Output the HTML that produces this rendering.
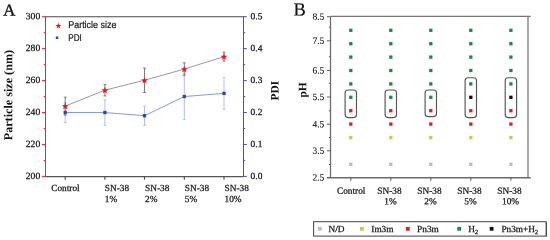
<!DOCTYPE html><html><head><meta charset="utf-8"><title>Figure</title><style>html,body{margin:0;padding:0;background:#fff;width:550px;height:240px;overflow:hidden}svg{display:block}</style></head><body>
<svg width="550" height="240" viewBox="0 0 550 240" text-rendering="geometricPrecision">
<rect width="550" height="240" fill="#fff"/>
<text x="3.2" y="15.6" font-family="'Liberation Serif', 'Times New Roman', serif" font-size="16.8" fill="#111" stroke="#111" stroke-width="0.3" transform="rotate(0.03 3.2 15.6)">A</text>
<line x1="45.5" y1="16.7" x2="243.5" y2="16.7" stroke="#4a4a4a" stroke-width="1.1"/>
<line x1="45.5" y1="176.65" x2="243.5" y2="176.65" stroke="#555" stroke-width="1.3"/>
<line x1="65.2" y1="176.4" x2="65.2" y2="179.70000000000002" stroke="#4a4a4a" stroke-width="1.1"/>
<line x1="104.9" y1="176.4" x2="104.9" y2="179.70000000000002" stroke="#4a4a4a" stroke-width="1.1"/>
<line x1="144.5" y1="176.4" x2="144.5" y2="179.70000000000002" stroke="#4a4a4a" stroke-width="1.1"/>
<line x1="184.3" y1="176.4" x2="184.3" y2="179.70000000000002" stroke="#4a4a4a" stroke-width="1.1"/>
<line x1="224.0" y1="176.4" x2="224.0" y2="179.70000000000002" stroke="#4a4a4a" stroke-width="1.1"/>
<line x1="45.5" y1="16.2" x2="45.5" y2="176.9" stroke="#f0202a" stroke-width="1.05"/>
<line x1="42.0" y1="16.70" x2="45.5" y2="16.70" stroke="#f0202a" stroke-width="1.0"/>
<text x="40.2" y="19.20" text-anchor="end" font-family="'Liberation Serif', 'Times New Roman', serif" font-size="9.6" fill="#161616" stroke="#161616" stroke-width="0.25" transform="rotate(0.03 40.2 19.20)">300</text>
<line x1="43.7" y1="32.67" x2="45.5" y2="32.67" stroke="#f0202a" stroke-width="1.0"/>
<line x1="42.0" y1="48.64" x2="45.5" y2="48.64" stroke="#f0202a" stroke-width="1.0"/>
<text x="40.2" y="51.14" text-anchor="end" font-family="'Liberation Serif', 'Times New Roman', serif" font-size="9.6" fill="#161616" stroke="#161616" stroke-width="0.25" transform="rotate(0.03 40.2 51.14)">280</text>
<line x1="43.7" y1="64.61" x2="45.5" y2="64.61" stroke="#f0202a" stroke-width="1.0"/>
<line x1="42.0" y1="80.58" x2="45.5" y2="80.58" stroke="#f0202a" stroke-width="1.0"/>
<text x="40.2" y="83.08" text-anchor="end" font-family="'Liberation Serif', 'Times New Roman', serif" font-size="9.6" fill="#161616" stroke="#161616" stroke-width="0.25" transform="rotate(0.03 40.2 83.08)">260</text>
<line x1="43.7" y1="96.55" x2="45.5" y2="96.55" stroke="#f0202a" stroke-width="1.0"/>
<line x1="42.0" y1="112.52" x2="45.5" y2="112.52" stroke="#f0202a" stroke-width="1.0"/>
<text x="40.2" y="115.02" text-anchor="end" font-family="'Liberation Serif', 'Times New Roman', serif" font-size="9.6" fill="#161616" stroke="#161616" stroke-width="0.25" transform="rotate(0.03 40.2 115.02)">240</text>
<line x1="43.7" y1="128.49" x2="45.5" y2="128.49" stroke="#f0202a" stroke-width="1.0"/>
<line x1="42.0" y1="144.46" x2="45.5" y2="144.46" stroke="#f0202a" stroke-width="1.0"/>
<text x="40.2" y="146.96" text-anchor="end" font-family="'Liberation Serif', 'Times New Roman', serif" font-size="9.6" fill="#161616" stroke="#161616" stroke-width="0.25" transform="rotate(0.03 40.2 146.96)">220</text>
<line x1="43.7" y1="160.43" x2="45.5" y2="160.43" stroke="#f0202a" stroke-width="1.0"/>
<line x1="42.0" y1="176.40" x2="45.5" y2="176.40" stroke="#f0202a" stroke-width="1.0"/>
<text x="40.2" y="178.90" text-anchor="end" font-family="'Liberation Serif', 'Times New Roman', serif" font-size="9.6" fill="#161616" stroke="#161616" stroke-width="0.25" transform="rotate(0.03 40.2 178.90)">200</text>
<line x1="243.5" y1="16.2" x2="243.5" y2="176.9" stroke="#3b53c4" stroke-width="1.05"/>
<line x1="243.5" y1="16.70" x2="246.8" y2="16.70" stroke="#3b53c4" stroke-width="1.0"/>
<text x="250.6" y="19.20" font-family="'Liberation Serif', 'Times New Roman', serif" font-size="9.4" fill="#161616" stroke="#161616" stroke-width="0.25" transform="rotate(0.03 250.6 19.20)">0.5</text>
<line x1="243.5" y1="32.67" x2="245.2" y2="32.67" stroke="#3b53c4" stroke-width="1.0"/>
<line x1="243.5" y1="48.64" x2="246.8" y2="48.64" stroke="#3b53c4" stroke-width="1.0"/>
<text x="250.6" y="51.14" font-family="'Liberation Serif', 'Times New Roman', serif" font-size="9.4" fill="#161616" stroke="#161616" stroke-width="0.25" transform="rotate(0.03 250.6 51.14)">0.4</text>
<line x1="243.5" y1="64.61" x2="245.2" y2="64.61" stroke="#3b53c4" stroke-width="1.0"/>
<line x1="243.5" y1="80.58" x2="246.8" y2="80.58" stroke="#3b53c4" stroke-width="1.0"/>
<text x="250.6" y="83.08" font-family="'Liberation Serif', 'Times New Roman', serif" font-size="9.4" fill="#161616" stroke="#161616" stroke-width="0.25" transform="rotate(0.03 250.6 83.08)">0.3</text>
<line x1="243.5" y1="96.55" x2="245.2" y2="96.55" stroke="#3b53c4" stroke-width="1.0"/>
<line x1="243.5" y1="112.52" x2="246.8" y2="112.52" stroke="#3b53c4" stroke-width="1.0"/>
<text x="250.6" y="115.02" font-family="'Liberation Serif', 'Times New Roman', serif" font-size="9.4" fill="#161616" stroke="#161616" stroke-width="0.25" transform="rotate(0.03 250.6 115.02)">0.2</text>
<line x1="243.5" y1="128.49" x2="245.2" y2="128.49" stroke="#3b53c4" stroke-width="1.0"/>
<line x1="243.5" y1="144.46" x2="246.8" y2="144.46" stroke="#3b53c4" stroke-width="1.0"/>
<text x="250.6" y="146.96" font-family="'Liberation Serif', 'Times New Roman', serif" font-size="9.4" fill="#161616" stroke="#161616" stroke-width="0.25" transform="rotate(0.03 250.6 146.96)">0.1</text>
<line x1="243.5" y1="160.43" x2="245.2" y2="160.43" stroke="#3b53c4" stroke-width="1.0"/>
<line x1="243.5" y1="176.40" x2="246.8" y2="176.40" stroke="#3b53c4" stroke-width="1.0"/>
<text x="250.6" y="178.90" font-family="'Liberation Serif', 'Times New Roman', serif" font-size="9.4" fill="#161616" stroke="#161616" stroke-width="0.25" transform="rotate(0.03 250.6 178.90)">0.0</text>
<text transform="translate(12.3,95.1) rotate(-90) rotate(0.03)" text-anchor="middle" font-family="'Liberation Serif', 'Times New Roman', serif" font-weight="bold" font-size="12.15" fill="#111">Particle size (nm)</text>
<text transform="translate(278.6,90.6) rotate(-90) rotate(0.03)" text-anchor="middle" font-family="'Liberation Serif', 'Times New Roman', serif" font-weight="bold" font-size="11.4" fill="#111">PDI</text>
<text x="65.45" y="191.1" text-anchor="middle" font-family="'Liberation Serif', 'Times New Roman', serif" font-size="9.3" fill="#161616" stroke="#161616" stroke-width="0.25" transform="rotate(0.03 65.45 191.1)">Control</text>
<text x="104.8" y="191.1" font-family="'Liberation Serif', 'Times New Roman', serif" font-size="9.3" fill="#161616" stroke="#161616" stroke-width="0.25" transform="rotate(0.03 104.8 191.1)">SN-38</text>
<text x="104.8" y="202.1" font-family="'Liberation Serif', 'Times New Roman', serif" font-size="9.3" fill="#161616" stroke="#161616" stroke-width="0.25" transform="rotate(0.03 104.8 202.1)">1%</text>
<text x="145.0" y="191.1" font-family="'Liberation Serif', 'Times New Roman', serif" font-size="9.3" fill="#161616" stroke="#161616" stroke-width="0.25" transform="rotate(0.03 145.0 191.1)">SN-38</text>
<text x="145.0" y="202.1" font-family="'Liberation Serif', 'Times New Roman', serif" font-size="9.3" fill="#161616" stroke="#161616" stroke-width="0.25" transform="rotate(0.03 145.0 202.1)">2%</text>
<text x="184.8" y="191.1" font-family="'Liberation Serif', 'Times New Roman', serif" font-size="9.3" fill="#161616" stroke="#161616" stroke-width="0.25" transform="rotate(0.03 184.8 191.1)">SN-38</text>
<text x="184.8" y="202.1" font-family="'Liberation Serif', 'Times New Roman', serif" font-size="9.3" fill="#161616" stroke="#161616" stroke-width="0.25" transform="rotate(0.03 184.8 202.1)">5%</text>
<text x="224.5" y="191.1" font-family="'Liberation Serif', 'Times New Roman', serif" font-size="9.3" fill="#161616" stroke="#161616" stroke-width="0.25" transform="rotate(0.03 224.5 191.1)">SN-38</text>
<text x="224.5" y="202.1" font-family="'Liberation Serif', 'Times New Roman', serif" font-size="9.3" fill="#161616" stroke="#161616" stroke-width="0.25" transform="rotate(0.03 224.5 202.1)">10%</text>
<line x1="65.2" y1="102.62" x2="65.2" y2="122.42" stroke="#b3bfea" stroke-width="1"/>
<line x1="63.7" y1="102.62" x2="66.7" y2="102.62" stroke="#b3bfea" stroke-width="0.9"/>
<line x1="63.7" y1="122.42" x2="66.7" y2="122.42" stroke="#b3bfea" stroke-width="0.9"/>
<line x1="104.9" y1="99.74" x2="104.9" y2="125.30" stroke="#b3bfea" stroke-width="1"/>
<line x1="103.4" y1="99.74" x2="106.4" y2="99.74" stroke="#b3bfea" stroke-width="0.9"/>
<line x1="103.4" y1="125.30" x2="106.4" y2="125.30" stroke="#b3bfea" stroke-width="0.9"/>
<line x1="144.5" y1="105.94" x2="144.5" y2="125.49" stroke="#b3bfea" stroke-width="1"/>
<line x1="143.0" y1="105.94" x2="146.0" y2="105.94" stroke="#b3bfea" stroke-width="0.9"/>
<line x1="143.0" y1="125.49" x2="146.0" y2="125.49" stroke="#b3bfea" stroke-width="0.9"/>
<line x1="184.3" y1="73.55" x2="184.3" y2="119.55" stroke="#b3bfea" stroke-width="1"/>
<line x1="182.8" y1="73.55" x2="185.8" y2="73.55" stroke="#b3bfea" stroke-width="0.9"/>
<line x1="182.8" y1="119.55" x2="185.8" y2="119.55" stroke="#b3bfea" stroke-width="0.9"/>
<line x1="224.0" y1="77.39" x2="224.0" y2="109.33" stroke="#b3bfea" stroke-width="1"/>
<line x1="222.5" y1="77.39" x2="225.5" y2="77.39" stroke="#b3bfea" stroke-width="0.9"/>
<line x1="222.5" y1="109.33" x2="225.5" y2="109.33" stroke="#b3bfea" stroke-width="0.9"/>
<line x1="65.2" y1="97.19" x2="65.2" y2="115.08" stroke="#6e6e6e" stroke-width="0.9"/>
<line x1="63.800000000000004" y1="97.19" x2="66.60000000000001" y2="97.19" stroke="#6e6e6e" stroke-width="0.9"/>
<line x1="63.800000000000004" y1="115.08" x2="66.60000000000001" y2="115.08" stroke="#6e6e6e" stroke-width="0.9"/>
<line x1="104.9" y1="84.41" x2="104.9" y2="95.91" stroke="#6e6e6e" stroke-width="0.9"/>
<line x1="103.5" y1="84.41" x2="106.30000000000001" y2="84.41" stroke="#6e6e6e" stroke-width="0.9"/>
<line x1="103.5" y1="95.91" x2="106.30000000000001" y2="95.91" stroke="#6e6e6e" stroke-width="0.9"/>
<line x1="144.5" y1="68.12" x2="144.5" y2="92.40" stroke="#6e6e6e" stroke-width="0.9"/>
<line x1="143.1" y1="68.12" x2="145.9" y2="68.12" stroke="#6e6e6e" stroke-width="0.9"/>
<line x1="143.1" y1="92.40" x2="145.9" y2="92.40" stroke="#6e6e6e" stroke-width="0.9"/>
<line x1="184.3" y1="62.85" x2="184.3" y2="75.31" stroke="#6e6e6e" stroke-width="0.9"/>
<line x1="182.9" y1="62.85" x2="185.70000000000002" y2="62.85" stroke="#6e6e6e" stroke-width="0.9"/>
<line x1="182.9" y1="75.31" x2="185.70000000000002" y2="75.31" stroke="#6e6e6e" stroke-width="0.9"/>
<line x1="224.0" y1="52.15" x2="224.0" y2="61.10" stroke="#6e6e6e" stroke-width="0.9"/>
<line x1="222.6" y1="52.15" x2="225.4" y2="52.15" stroke="#6e6e6e" stroke-width="0.9"/>
<line x1="222.6" y1="61.10" x2="225.4" y2="61.10" stroke="#6e6e6e" stroke-width="0.9"/>
<polyline points="65.2,112.52 104.9,112.52 144.5,115.71 184.3,96.55 224.0,93.36" fill="none" stroke="#7690dc" stroke-width="0.9"/>
<polyline points="65.2,106.13 104.9,90.16 144.5,80.26 184.3,69.08 224.0,56.62" fill="none" stroke="#8e8e8e" stroke-width="0.9"/>
<rect x="63.55" y="110.87" width="3.3" height="3.3" fill="#2b45b0"/>
<rect x="103.25" y="110.87" width="3.3" height="3.3" fill="#2b45b0"/>
<rect x="142.85" y="114.06" width="3.3" height="3.3" fill="#2b45b0"/>
<rect x="182.65" y="94.90" width="3.3" height="3.3" fill="#2b45b0"/>
<rect x="222.35" y="91.71" width="3.3" height="3.3" fill="#2b45b0"/>
<polygon points="65.20,102.83 66.08,105.22 68.62,105.32 66.63,106.90 67.32,109.34 65.20,107.93 63.08,109.34 63.77,106.90 61.78,105.32 64.32,105.22" fill="#f0141e"/>
<polygon points="104.90,86.86 105.78,89.25 108.32,89.35 106.33,90.93 107.02,93.37 104.90,91.96 102.78,93.37 103.47,90.93 101.48,89.35 104.02,89.25" fill="#f0141e"/>
<polygon points="144.50,76.96 145.38,79.35 147.92,79.45 145.93,81.02 146.62,83.47 144.50,82.06 142.38,83.47 143.07,81.02 141.08,79.45 143.62,79.35" fill="#f0141e"/>
<polygon points="184.30,65.78 185.18,68.17 187.72,68.27 185.73,69.85 186.42,72.29 184.30,70.88 182.18,72.29 182.87,69.85 180.88,68.27 183.42,68.17" fill="#f0141e"/>
<polygon points="224.00,53.32 224.88,55.71 227.42,55.81 225.43,57.39 226.12,59.84 224.00,58.42 221.88,59.84 222.57,57.39 220.58,55.81 223.12,55.71" fill="#f0141e"/>
<polygon points="58.40,22.80 59.16,24.95 61.44,25.01 59.64,26.40 60.28,28.59 58.40,27.30 56.52,28.59 57.16,26.40 55.36,25.01 57.64,24.95" fill="#f0141e"/>
<text x="68.2" y="28.3" font-family="'Liberation Sans', Arial, sans-serif" font-size="9.8" textLength="48.3" lengthAdjust="spacingAndGlyphs" fill="#161616" stroke="#161616" stroke-width="0.2" transform="rotate(0.03 68.2 28.3)">Particle size</text>
<rect x="55.8" y="36.5" width="2.5" height="2.5" fill="#2b45b0"/>
<text x="68.2" y="40.6" font-family="'Liberation Sans', Arial, sans-serif" font-size="9.8" textLength="13.6" lengthAdjust="spacingAndGlyphs" fill="#161616" stroke="#161616" stroke-width="0.2" transform="rotate(0.03 68.2 40.6)">PDI</text>
<text x="293.6" y="15.6" font-family="'Liberation Serif', 'Times New Roman', serif" font-size="18.5" fill="#111" stroke="#111" stroke-width="0.2" transform="rotate(0.03 293.6 15.6)">B</text>
<line x1="528.0" y1="16.5" x2="528.0" y2="177.6" stroke="#8c8c8c" stroke-width="1.5"/>
<line x1="330.5" y1="16.45" x2="530.8" y2="16.45" stroke="#767676" stroke-width="1.3"/>
<line x1="326.9" y1="177.7" x2="530.8" y2="177.7" stroke="#6a6a6a" stroke-width="1.4"/>
<line x1="330.5" y1="16.5" x2="330.5" y2="177.6" stroke="#6e6e6e" stroke-width="1.3"/>
<line x1="326.9" y1="16.70" x2="330.5" y2="16.70" stroke="#606060" stroke-width="1.0"/>
<text x="324.3" y="19.70" text-anchor="end" font-family="'Liberation Serif', 'Times New Roman', serif" font-size="9.5" fill="#161616" stroke="#161616" stroke-width="0.1" transform="rotate(0.03 324.3 19.70)">8.5</text>
<line x1="328.9" y1="27.20" x2="330.5" y2="27.20" stroke="#606060" stroke-width="1.0"/>
<line x1="326.9" y1="40.80" x2="330.5" y2="40.80" stroke="#606060" stroke-width="1.0"/>
<text x="324.3" y="43.80" text-anchor="end" font-family="'Liberation Serif', 'Times New Roman', serif" font-size="9.5" fill="#161616" stroke="#161616" stroke-width="0.1" transform="rotate(0.03 324.3 43.80)">7.5</text>
<line x1="328.9" y1="56.70" x2="330.5" y2="56.70" stroke="#606060" stroke-width="1.0"/>
<line x1="326.9" y1="70.40" x2="330.5" y2="70.40" stroke="#606060" stroke-width="1.0"/>
<text x="324.3" y="73.40" text-anchor="end" font-family="'Liberation Serif', 'Times New Roman', serif" font-size="9.5" fill="#161616" stroke="#161616" stroke-width="0.1" transform="rotate(0.03 324.3 73.40)">6.5</text>
<line x1="328.9" y1="83.30" x2="330.5" y2="83.30" stroke="#606060" stroke-width="1.0"/>
<line x1="326.9" y1="97.00" x2="330.5" y2="97.00" stroke="#606060" stroke-width="1.0"/>
<text x="324.3" y="100.00" text-anchor="end" font-family="'Liberation Serif', 'Times New Roman', serif" font-size="9.5" fill="#161616" stroke="#161616" stroke-width="0.1" transform="rotate(0.03 324.3 100.00)">5.5</text>
<line x1="328.9" y1="110.80" x2="330.5" y2="110.80" stroke="#606060" stroke-width="1.0"/>
<line x1="326.9" y1="124.20" x2="330.5" y2="124.20" stroke="#606060" stroke-width="1.0"/>
<text x="324.3" y="127.20" text-anchor="end" font-family="'Liberation Serif', 'Times New Roman', serif" font-size="9.5" fill="#161616" stroke="#161616" stroke-width="0.1" transform="rotate(0.03 324.3 127.20)">4.5</text>
<line x1="328.9" y1="137.50" x2="330.5" y2="137.50" stroke="#606060" stroke-width="1.0"/>
<line x1="326.9" y1="150.80" x2="330.5" y2="150.80" stroke="#606060" stroke-width="1.0"/>
<text x="324.3" y="153.80" text-anchor="end" font-family="'Liberation Serif', 'Times New Roman', serif" font-size="9.5" fill="#161616" stroke="#161616" stroke-width="0.1" transform="rotate(0.03 324.3 153.80)">3.5</text>
<line x1="328.9" y1="164.50" x2="330.5" y2="164.50" stroke="#606060" stroke-width="1.0"/>
<line x1="326.9" y1="177.50" x2="330.5" y2="177.50" stroke="#606060" stroke-width="1.0"/>
<text x="324.3" y="180.50" text-anchor="end" font-family="'Liberation Serif', 'Times New Roman', serif" font-size="9.5" fill="#161616" stroke="#161616" stroke-width="0.1" transform="rotate(0.03 324.3 180.50)">2.5</text>
<line x1="350.8" y1="177.6" x2="350.8" y2="180.79999999999998" stroke="#606060" stroke-width="1.0"/>
<line x1="390.8" y1="177.6" x2="390.8" y2="180.79999999999998" stroke="#606060" stroke-width="1.0"/>
<line x1="430.8" y1="177.6" x2="430.8" y2="180.79999999999998" stroke="#606060" stroke-width="1.0"/>
<line x1="470.8" y1="177.6" x2="470.8" y2="180.79999999999998" stroke="#606060" stroke-width="1.0"/>
<line x1="510.9" y1="177.6" x2="510.9" y2="180.79999999999998" stroke="#606060" stroke-width="1.0"/>
<text transform="translate(306.2,90) rotate(-90) rotate(0.03)" text-anchor="middle" font-family="'Liberation Serif', 'Times New Roman', serif" font-weight="bold" font-size="11.4" fill="#111">pH</text>
<text x="351.2" y="193.8" text-anchor="middle" font-family="'Liberation Serif', 'Times New Roman', serif" font-size="9.3" fill="#161616" stroke="#161616" stroke-width="0.25" transform="rotate(0.03 351.2 193.8)">Control</text>
<text x="389.4" y="193.8" text-anchor="middle" font-family="'Liberation Serif', 'Times New Roman', serif" font-size="9.3" fill="#161616" stroke="#161616" stroke-width="0.25" transform="rotate(0.03 389.4 193.8)">SN-38</text>
<text x="390.5" y="204.3" text-anchor="middle" font-family="'Liberation Serif', 'Times New Roman', serif" font-size="9.3" fill="#161616" stroke="#161616" stroke-width="0.25" transform="rotate(0.03 390.5 204.3)">1%</text>
<text x="429.4" y="193.8" text-anchor="middle" font-family="'Liberation Serif', 'Times New Roman', serif" font-size="9.3" fill="#161616" stroke="#161616" stroke-width="0.25" transform="rotate(0.03 429.4 193.8)">SN-38</text>
<text x="430.5" y="204.3" text-anchor="middle" font-family="'Liberation Serif', 'Times New Roman', serif" font-size="9.3" fill="#161616" stroke="#161616" stroke-width="0.25" transform="rotate(0.03 430.5 204.3)">2%</text>
<text x="469.4" y="193.8" text-anchor="middle" font-family="'Liberation Serif', 'Times New Roman', serif" font-size="9.3" fill="#161616" stroke="#161616" stroke-width="0.25" transform="rotate(0.03 469.4 193.8)">SN-38</text>
<text x="470.5" y="204.3" text-anchor="middle" font-family="'Liberation Serif', 'Times New Roman', serif" font-size="9.3" fill="#161616" stroke="#161616" stroke-width="0.25" transform="rotate(0.03 470.5 204.3)">5%</text>
<text x="509.5" y="193.8" text-anchor="middle" font-family="'Liberation Serif', 'Times New Roman', serif" font-size="9.3" fill="#161616" stroke="#161616" stroke-width="0.25" transform="rotate(0.03 509.5 193.8)">SN-38</text>
<text x="510.6" y="204.3" text-anchor="middle" font-family="'Liberation Serif', 'Times New Roman', serif" font-size="9.3" fill="#161616" stroke="#161616" stroke-width="0.25" transform="rotate(0.03 510.6 204.3)">10%</text>
<rect x="349.15" y="28.65" width="3.3" height="3.3" fill="#17894a"/>
<rect x="349.15" y="42.05" width="3.3" height="3.3" fill="#17894a"/>
<rect x="349.15" y="55.45" width="3.3" height="3.3" fill="#17894a"/>
<rect x="349.15" y="68.85" width="3.3" height="3.3" fill="#17894a"/>
<rect x="349.15" y="82.25" width="3.3" height="3.3" fill="#17894a"/>
<rect x="349.15" y="95.65" width="3.3" height="3.3" fill="#17894a"/>
<rect x="349.15" y="109.05" width="3.3" height="3.3" fill="#f0141e"/>
<rect x="349.15" y="122.45" width="3.3" height="3.3" fill="#f0141e"/>
<rect x="349.15" y="135.85" width="3.3" height="3.3" fill="#c8c858"/>
<rect x="349.15" y="162.65" width="3.3" height="3.3" fill="#bcbcbc"/>
<rect x="345.10" y="90.0" width="11.4" height="27.60" rx="3" ry="3" fill="none" stroke="#555" stroke-width="1.15"/>
<rect x="389.15" y="28.65" width="3.3" height="3.3" fill="#17894a"/>
<rect x="389.15" y="42.05" width="3.3" height="3.3" fill="#17894a"/>
<rect x="389.15" y="55.45" width="3.3" height="3.3" fill="#17894a"/>
<rect x="389.15" y="68.85" width="3.3" height="3.3" fill="#17894a"/>
<rect x="389.15" y="82.25" width="3.3" height="3.3" fill="#17894a"/>
<rect x="389.15" y="95.65" width="3.3" height="3.3" fill="#17894a"/>
<rect x="389.15" y="109.05" width="3.3" height="3.3" fill="#f0141e"/>
<rect x="389.15" y="122.45" width="3.3" height="3.3" fill="#f0141e"/>
<rect x="389.15" y="135.85" width="3.3" height="3.3" fill="#c8c858"/>
<rect x="389.15" y="162.65" width="3.3" height="3.3" fill="#bcbcbc"/>
<rect x="385.10" y="90.0" width="11.4" height="27.60" rx="3" ry="3" fill="none" stroke="#555" stroke-width="1.15"/>
<rect x="429.15" y="28.65" width="3.3" height="3.3" fill="#17894a"/>
<rect x="429.15" y="42.05" width="3.3" height="3.3" fill="#17894a"/>
<rect x="429.15" y="55.45" width="3.3" height="3.3" fill="#17894a"/>
<rect x="429.15" y="68.85" width="3.3" height="3.3" fill="#17894a"/>
<rect x="429.15" y="82.25" width="3.3" height="3.3" fill="#17894a"/>
<rect x="429.15" y="95.65" width="3.3" height="3.3" fill="#17894a"/>
<rect x="429.15" y="109.05" width="3.3" height="3.3" fill="#f0141e"/>
<rect x="429.15" y="122.45" width="3.3" height="3.3" fill="#f0141e"/>
<rect x="429.15" y="135.85" width="3.3" height="3.3" fill="#c8c858"/>
<rect x="429.15" y="162.65" width="3.3" height="3.3" fill="#bcbcbc"/>
<rect x="425.10" y="90.0" width="11.4" height="26.60" rx="3" ry="3" fill="none" stroke="#555" stroke-width="1.15"/>
<rect x="469.15" y="28.65" width="3.3" height="3.3" fill="#17894a"/>
<rect x="469.15" y="42.05" width="3.3" height="3.3" fill="#17894a"/>
<rect x="469.15" y="55.45" width="3.3" height="3.3" fill="#17894a"/>
<rect x="469.15" y="68.85" width="3.3" height="3.3" fill="#17894a"/>
<rect x="469.15" y="82.25" width="3.3" height="3.3" fill="#17894a"/>
<rect x="469.15" y="95.65" width="3.3" height="3.3" fill="#0e0e0e"/>
<rect x="469.15" y="109.05" width="3.3" height="3.3" fill="#f0141e"/>
<rect x="469.15" y="122.45" width="3.3" height="3.3" fill="#f0141e"/>
<rect x="469.15" y="135.85" width="3.3" height="3.3" fill="#c8c858"/>
<rect x="469.15" y="162.65" width="3.3" height="3.3" fill="#bcbcbc"/>
<rect x="465.10" y="77.7" width="11.4" height="39.90" rx="3" ry="3" fill="none" stroke="#555" stroke-width="1.15"/>
<rect x="509.25" y="28.65" width="3.3" height="3.3" fill="#17894a"/>
<rect x="509.25" y="42.05" width="3.3" height="3.3" fill="#17894a"/>
<rect x="509.25" y="55.45" width="3.3" height="3.3" fill="#17894a"/>
<rect x="509.25" y="68.85" width="3.3" height="3.3" fill="#17894a"/>
<rect x="509.25" y="82.25" width="3.3" height="3.3" fill="#17894a"/>
<rect x="509.25" y="95.65" width="3.3" height="3.3" fill="#0e0e0e"/>
<rect x="509.25" y="109.05" width="3.3" height="3.3" fill="#f0141e"/>
<rect x="509.25" y="122.45" width="3.3" height="3.3" fill="#f0141e"/>
<rect x="509.25" y="135.85" width="3.3" height="3.3" fill="#c8c858"/>
<rect x="509.25" y="162.65" width="3.3" height="3.3" fill="#bcbcbc"/>
<rect x="505.20" y="77.7" width="11.4" height="39.90" rx="3" ry="3" fill="none" stroke="#555" stroke-width="1.15"/>
<rect x="313.6" y="221.7" width="232.5" height="14.4" fill="none" stroke="#4a4a4a" stroke-width="1.05"/>
<line x1="546.5" y1="222.2" x2="546.5" y2="236.6" stroke="#444" stroke-width="0.9"/>
<rect x="317.90" y="226.90" width="3.8" height="3.8" fill="#bcbcbc"/>
<text x="328.5" y="231.9" font-family="'Liberation Serif', 'Times New Roman', serif" font-size="9.3" fill="#161616" stroke="#161616" stroke-width="0.25" transform="rotate(0.03 328.5 231.9)">N/D</text>
<rect x="360.00" y="226.90" width="3.8" height="3.8" fill="#c8c858"/>
<text x="371.3" y="231.9" font-family="'Liberation Serif', 'Times New Roman', serif" font-size="9.3" fill="#161616" stroke="#161616" stroke-width="0.25" transform="rotate(0.03 371.3 231.9)">Im3m</text>
<rect x="405.90" y="226.90" width="3.8" height="3.8" fill="#f0141e"/>
<text x="417.1" y="231.9" font-family="'Liberation Serif', 'Times New Roman', serif" font-size="9.3" fill="#161616" stroke="#161616" stroke-width="0.25" transform="rotate(0.03 417.1 231.9)">Pn3m</text>
<rect x="457.30" y="226.90" width="3.8" height="3.8" fill="#17894a"/>
<rect x="489.70" y="226.90" width="3.8" height="3.8" fill="#0e0e0e"/>
<text x="468.2" y="231.9" font-family="'Liberation Serif', 'Times New Roman', serif" font-size="9.3" fill="#161616" stroke="#161616" stroke-width="0.25" transform="rotate(0.03 468.2 231.9)">H<tspan font-size="6.2" dy="2">2</tspan></text>
<text x="501.4" y="231.9" font-family="'Liberation Serif', 'Times New Roman', serif" font-size="9.3" fill="#161616" stroke="#161616" stroke-width="0.25" transform="rotate(0.03 501.4 231.9)">Pn3m+H<tspan font-size="6.2" dy="2">2</tspan></text>
</svg></body></html>
